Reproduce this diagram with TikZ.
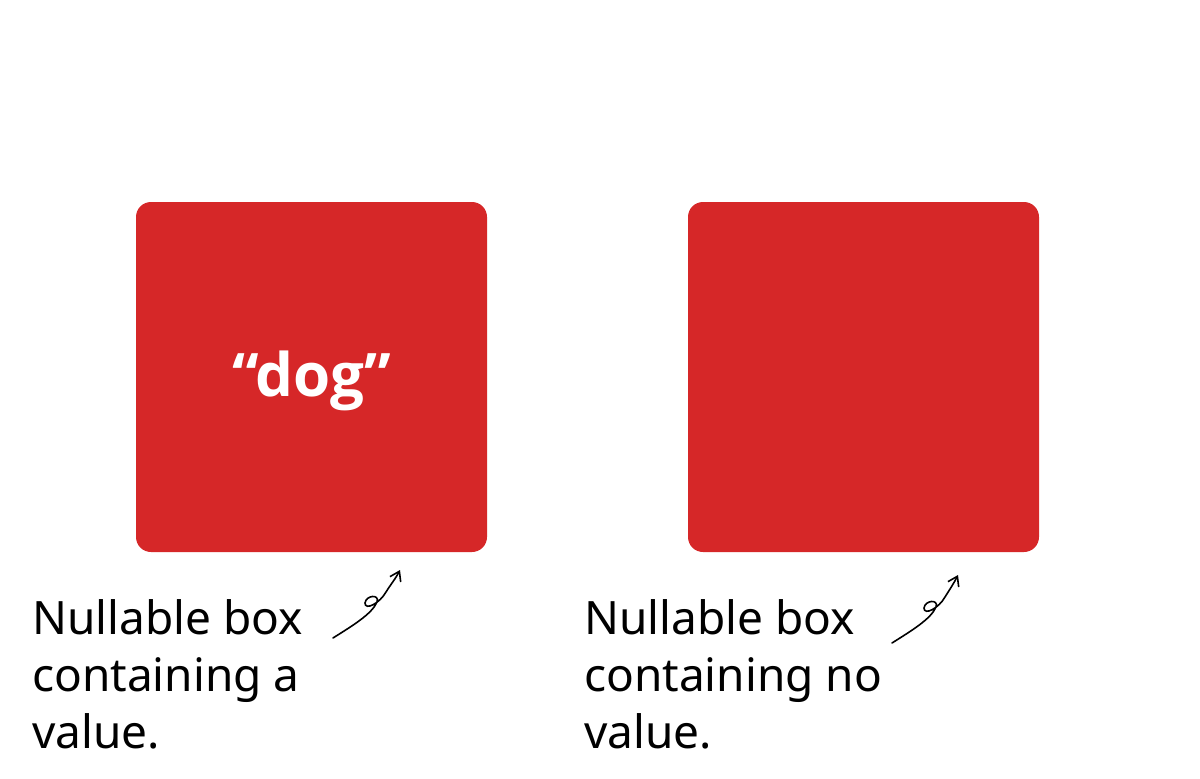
\documentclass[tikz,border=0pt]{standalone}
\usepackage{fontspec}
\setmainfont{Noto Sans}
\newfontfamily\dogfont{Open Sans}
\usetikzlibrary{arrows.meta}
\definecolor{boxred}{RGB}{214,39,40}
\tikzset{
  nbox/.style={fill=boxred, draw=none, rounded corners=15pt, minimum width=351pt, minimum height=350pt, inner sep=0pt},
  caption/.style={anchor=north west, align=left, inner sep=0pt, font=\fontsize{46}{57}\selectfont, text=black},
  curl/.style={line width=1.6pt, -{Straight Barb[length=9pt,width=12pt]}, line cap=round}
}
\begin{document}
\begin{tikzpicture}[x=1pt,y=-1pt]
\useasboundingbox (0,0) rectangle (1200,779);
\node[nbox] (b1) at (311.5,377) {};
\node[nbox] (b2) at (863.5,377) {};
\node[text=white, font=\dogfont\bfseries\fontsize{60}{70}\selectfont] (dog) at (311.5,381) {“dog”};
\node[caption] (t1) at (32,599) {Nullable box\\containing a\\value.};
\node[caption] (t2) at (584,599) {Nullable box\\containing no\\value.};
\coordinate (a1s) at (333,638);
\coordinate (a1e) at (400,570);
\coordinate (a2s) at (892,643);
\coordinate (a2e) at (958,575);
\draw[curl] (a1s) .. controls (352,626) and (372,614) .. (377,602)
  .. controls (380,594) and (366,595) .. (365,603)
  .. controls (365,611) and (380,603) .. (386,592)
  .. controls (391,584) and (396,578) .. (a1e);
\draw[curl] (a2s) .. controls (911,631) and (931,619) .. (936,607)
  .. controls (939,599) and (925,600) .. (924,608)
  .. controls (924,616) and (939,608) .. (945,597)
  .. controls (950,589) and (954,583) .. (a2e);
\end{tikzpicture}
\end{document}
